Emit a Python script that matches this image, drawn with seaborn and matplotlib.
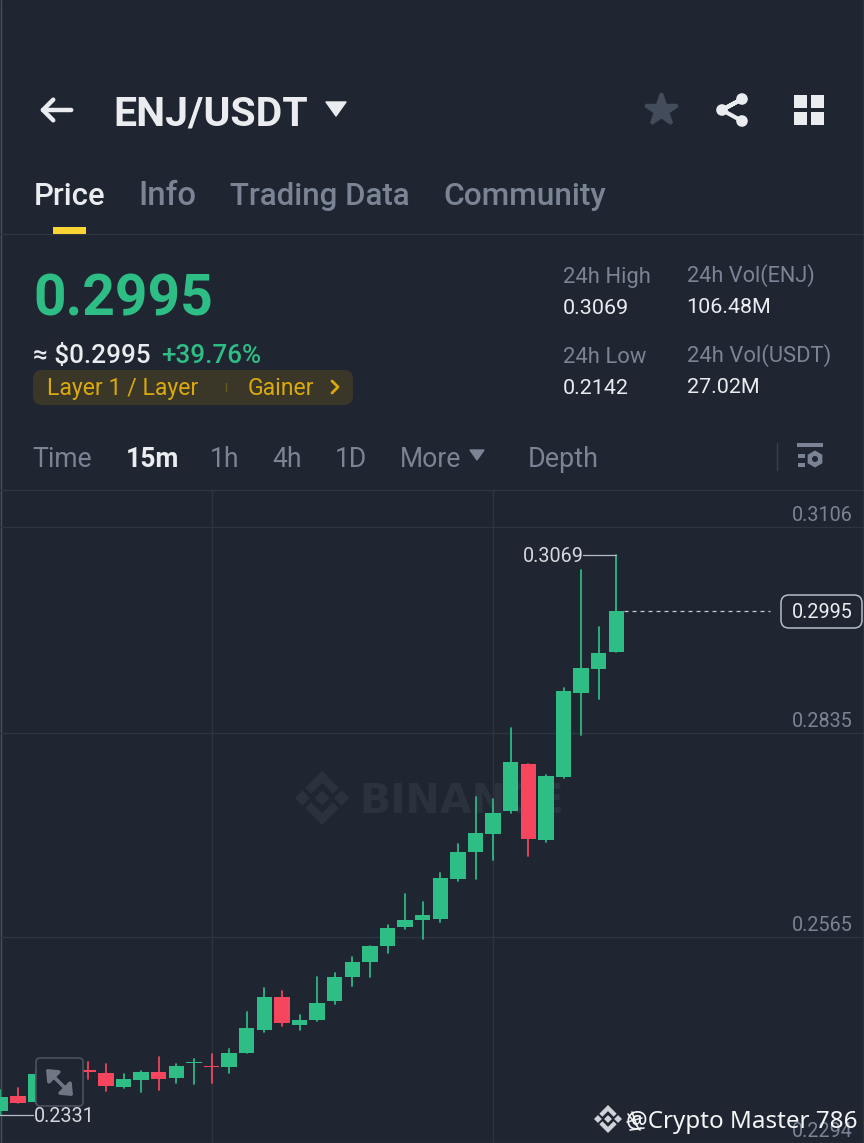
from __future__ import annotations

import matplotlib
matplotlib.use("Agg")
import matplotlib.pyplot as plt
from matplotlib.patches import Circle, FancyBboxPatch, Polygon, Rectangle, RegularPolygon
import pandas as pd
import seaborn as sns

BG = "#1F2631"
GRID = "#2E3541"
UP = "#2EBD85"
DOWN = "#F6465D"
WHITE = "#EAECEF"
MUTED = "#7A8494"
YELLOW = "#D9A90E"

# candles, oldest first
opens = [
    0.23362, 0.23559, 0.23480, 0.23849, 0.23876, 0.23902, 0.23863, 0.23678, 0.23770,
    0.23876, 0.23797, 0.23994, 0.23955, 0.23942, 0.24126, 0.24429, 0.24864, 0.24495,
    0.24561, 0.24812, 0.25128, 0.25326, 0.25537, 0.25787, 0.25879, 0.25893, 0.26420,
    0.26776, 0.27013, 0.27316, 0.27936, 0.26934, 0.27764, 0.28872, 0.29188, 0.29412,
]
closes = [
    0.23546, 0.23467, 0.23849, 0.23955, 0.23929, 0.23876, 0.23691, 0.23784, 0.23876,
    0.23784, 0.23955, 0.24008, 0.23942, 0.24126, 0.24456, 0.24864, 0.24522, 0.24561,
    0.24785, 0.25128, 0.25326, 0.25537, 0.25774, 0.25879, 0.25945, 0.26433, 0.26776,
    0.27026, 0.27290, 0.27962, 0.26947, 0.27778, 0.28898, 0.29201, 0.29399, 0.29950,
]
highs = [
    0.23639, 0.23665, 0.23902, 0.24008, 0.23981, 0.24008, 0.23981, 0.23849, 0.23889,
    0.24074, 0.23981, 0.24047, 0.24113, 0.24179, 0.24667, 0.24983, 0.24944, 0.24627,
    0.25128, 0.25181, 0.25392, 0.25537, 0.25814, 0.26222, 0.26117, 0.26499, 0.26881,
    0.27501, 0.27474, 0.28410, 0.27936, 0.27791, 0.28938, 0.30493, 0.29742, 0.30690,
]
lows = [
    0.23310, 0.23467, 0.23467, 0.23797, 0.23823, 0.23784, 0.23625, 0.23665, 0.23612,
    0.23639, 0.23731, 0.23718, 0.23731, 0.23863, 0.24126, 0.24403, 0.24482, 0.24429,
    0.24548, 0.24772, 0.25009, 0.25128, 0.25444, 0.25761, 0.25629, 0.25853, 0.26394,
    0.26420, 0.26670, 0.27290, 0.26723, 0.26908, 0.27751, 0.28318, 0.28793, 0.29412,
]
price_ticks = [0.3106, 0.2835, 0.2565, 0.2294]
time_grid = [12, 28]
last_price = 0.2995
high_price = 0.3069
low_price = 0.2331
tabs = ["Price", "Info", "Trading Data", "Community"]
intervals = ["Time", "15m", "1h", "4h", "1D", "More", "Depth"]

candles = pd.DataFrame({"open": opens, "close": closes, "high": highs, "low": lows})
candles["idx"] = candles.index
candles["direction"] = ["up" if c >= o else "down" for o, c in zip(opens, closes)]
wicks = candles.melt(
    id_vars=["idx", "direction"], value_vars=["high", "low"], value_name="price"
).sort_values(["idx", "variable"])

sns.set_theme(style="dark")
plt.rcParams["font.family"] = ["Roboto", "Noto Sans", "DejaVu Sans"]
palette = {"up": UP, "down": DOWN}

W, H = 864, 1143
fig = plt.figure(figsize=(W / 100, H / 100), dpi=100, facecolor=BG)


def px_axes(zorder):
    a = fig.add_axes([0, 0, 1, 1], zorder=zorder, facecolor="none")
    a.set_xlim(0, W)
    a.set_ylim(H, 0)
    a.set_axis_off()
    return a


back = px_axes(0)
front = px_axes(3)

# chart panel runs from y=490 down to the bottom edge
ax = fig.add_axes([0, 0, 1, (H - 490) / H], zorder=1, facecolor="none")
sns.lineplot(
    data=wicks, x="idx", y="price", hue="direction", units="idx", estimator=None,
    palette=palette, linewidth=1.25, legend=False, sort=False, ax=ax,
)
ax.bar(
    candles["idx"],
    (candles["close"] - candles["open"]).abs(),
    bottom=candles[["open", "close"]].min(axis=1),
    width=0.875,
    color=[palette[d] for d in candles["direction"]],
    linewidth=0,
    zorder=3,
)
ax.set_xlim(-0.017, 49.07)
ax.set_ylim(0.2294, 0.31548)
ax.set_xticks(time_grid)
ax.set_yticks(price_ticks)
ax.set_xticklabels([])
ax.set_yticklabels([])
ax.set_xlabel("")
ax.set_ylabel("")
ax.tick_params(length=0)
ax.grid(True, color=GRID, linewidth=1.0)
ax.set_axisbelow(True)
for spine in ax.spines.values():
    spine.set_visible(False)

for value in price_ticks:
    ax.annotate(f"{value:.4f}", (1, value), xycoords=("axes fraction", "data"),
                xytext=(-11, 2), textcoords="offset pixels", ha="right", va="bottom",
                fontsize=14.2, color=MUTED, zorder=5)

# high / low / last price markers
ax.plot([33.1, 35], [high_price, high_price], color="#B7BDC6", linewidth=0.9, zorder=2)
ax.annotate(f"{high_price:.4f}", (33.1, high_price), xytext=(1, 1), textcoords="offset pixels",
            ha="right", va="center_baseline", fontsize=14.2, color="#D5D8DD", zorder=6)
ax.plot([-0.017, 1.85], [low_price, low_price], color="#B7BDC6", linewidth=0.9, zorder=2)
ax.annotate(f"{low_price:.4f}", (1.9, low_price), xytext=(0, 0), textcoords="offset pixels",
            ha="left", va="center_baseline", fontsize=14.2, color="#D5D8DD", zorder=6)
ax.plot([35.45, 43.75], [last_price, last_price], color="#C4C9D0", linewidth=0.9,
        dashes=(3.2, 3.2), zorder=2)


def label(x, y, s, px, color=WHITE, weight="normal", ha="left", target=front, **kw):
    return target.text(x, y, s, fontsize=px * 0.72, color=color, fontweight=weight,
                       ha=ha, va="baseline", **kw)


def binance_logo(target, cx, cy, r, color):
    shapes = [
        [(0, 0.28), (0.28, 0), (0, -0.28), (-0.28, 0)],
        [(0.72, 0.28), (1, 0), (0.72, -0.28), (0.44, 0)],
        [(-0.72, 0.28), (-1, 0), (-0.72, -0.28), (-0.44, 0)],
        [(-0.62, 0.38), (0, 1), (0.62, 0.38), (0.4, 0.16), (0, 0.56), (-0.4, 0.16)],
        [(-0.62, -0.38), (0, -1), (0.62, -0.38), (0.4, -0.16), (0, -0.56), (-0.4, -0.16)],
    ]
    for pts in shapes:
        target.add_patch(Polygon([(cx + a * r, cy - b * r) for a, b in pts], closed=True,
                                 facecolor=color, edgecolor="none"))


def rounded(target, x0, y0, x1, y1, rad, **kw):
    target.add_patch(FancyBboxPatch((x0 + rad, y0 + rad), x1 - x0 - 2 * rad, y1 - y0 - 2 * rad,
                                    boxstyle=f"round,pad={rad},rounding_size={rad}", **kw))


# screen edges and dividers
back.plot([1, 1], [0, H], color="#4A505A", linewidth=1)
back.plot([863, 863], [0, H], color="#2B313B", linewidth=1)
back.plot([0, W], [234, 234], color=GRID, linewidth=1)
back.plot([0, W], [490, 490], color=GRID, linewidth=1)

# watermark behind candles
binance_logo(back, 322, 798, 27, "#2C323D")
label(359, 813, "BINANCE", 41, color="#2C323D", weight="bold", target=back,
      family=["DejaVu Sans"])

# header
front.annotate("", xy=(37, 110), xytext=(74, 110),
               arrowprops=dict(arrowstyle="->,head_length=0.62,head_width=0.62", color=WHITE, lw=3.2))
label(113, 125, "ENJ/USDT", 41, weight="bold")
front.add_patch(Polygon([(326, 102), (346, 102), (336, 116)], closed=True, facecolor=WHITE,
                        edgecolor=WHITE, linewidth=1, joinstyle="round"))
front.plot([661], [110], marker="*", markersize=24, color="#434C5A", markeredgecolor="#434C5A",
           markeredgewidth=2.5)
front.plot([722, 742, 722, 742], [110, 99, 110, 121], color=WHITE, linewidth=3)
for cx, cy in [(722, 110), (742, 99), (742, 121)]:
    front.add_patch(Circle((cx, cy), 5.8, facecolor=WHITE, edgecolor="none"))
for sx in (794, 811):
    for sy in (95, 112):
        front.add_patch(Rectangle((sx, sy), 13, 13, facecolor=WHITE, edgecolor="none"))

# tabs
for name, x, color, px in zip(tabs, [34, 138, 230, 443], [WHITE, MUTED, MUTED, MUTED], [31, 33, 31.3, 31.6]):
    label(x, 205, name, px, color=color, weight="medium")
front.add_patch(Rectangle((53, 227), 33, 7, facecolor="#FCD535", edgecolor="none"))

# price block
label(33, 315, f"{last_price:.4f}", 57, color=UP, weight="bold")
label(33, 363, f"≈ ${last_price:.4f}", 26, weight="medium")
label(161, 363, "+39.76%", 26, color=UP, weight="medium")
rounded(back, 33, 370, 353, 405, 9, facecolor="#3A3628", edgecolor="none")
label(47, 395, "Layer 1 / Layer", 23, color=YELLOW)
front.plot([226, 226], [383, 391], color="#6B5A20", linewidth=1)
label(248, 395, "Gainer", 23, color=YELLOW)
front.plot([332, 338, 332], [381, 387, 393], color=YELLOW, linewidth=2)

# 24h stats
label(563, 283, "24h High", 22, color=MUTED)
label(563, 314, "0.3069", 21.5)
label(687, 282, "24h Vol(ENJ)", 21.8, color=MUTED)
label(686, 313, "106.48M", 21.5)
label(563, 363, "24h Low", 22, color=MUTED)
label(563, 394, "0.2142", 21.5)
label(687, 362, "24h Vol(USDT)", 22, color=MUTED)
label(687, 393, "27.02M", 21.5)

# interval row
for name, x in zip(intervals, [32, 126, 210, 272, 335, 400, 528]):
    active = name == "15m"
    label(x, 467, name, 27 if name == "Depth" else 26.5,
          color=WHITE if active else MUTED, weight="bold" if active else "normal")
front.add_patch(Polygon([(470, 450), (484, 450), (477, 460)], closed=True, facecolor=MUTED,
                        edgecolor=MUTED, linewidth=1))
front.plot([777, 777], [443, 470], color="#3A414D", linewidth=1)
front.add_patch(Rectangle((797, 443), 26, 4, facecolor=MUTED, edgecolor="none"))
front.add_patch(Rectangle((798, 454), 7, 3.5, facecolor=MUTED, edgecolor="none"))
front.add_patch(Rectangle((798, 463), 7, 3.5, facecolor=MUTED, edgecolor="none"))
front.add_patch(RegularPolygon((815, 459), 6, radius=8.5, facecolor=MUTED, edgecolor="none"))
front.add_patch(Circle((815, 459), 3, facecolor=BG, edgecolor="none"))

# last price pill
rounded(front, 781, 595, 862, 628, 8, facecolor=BG, edgecolor="#B7BDC6", linewidth=1.1)
label(792, 618, f"{last_price:.4f}", 19.8)

# fullscreen button covers a few candles
rounded(front, 36, 1058, 83, 1106, 4, facecolor=BG, edgecolor="#4A5260", linewidth=1.2)
for tip, tail in [((46, 1069), (59, 1082)), ((73, 1096), (60, 1083))]:
    front.annotate("", xy=tip, xytext=tail,
                   arrowprops=dict(arrowstyle="-|>,head_length=0.5,head_width=0.42",
                                   color="#6F7785", lw=2.6, shrinkA=0, shrinkB=0))

# bottom right credit
binance_logo(front, 608, 1119, 14, "#CFD2D6")
for xs, ys in [([628, 640], [1114, 1130]), ([627, 642], [1122, 1118]), ([630, 644], [1130, 1128]),
               ([632, 637], [1112, 1126])]:
    front.plot(xs, ys, color="#E6E6E6", linewidth=1.2)
front.text(857, 1128, "@Crypto Master 786", fontsize=24.2 * 0.72, color="#F4F5F6", ha="right",
           va="baseline", family=["Noto Sans", "DejaVu Sans"])

fig.savefig("out.png", dpi=100, facecolor=BG)
